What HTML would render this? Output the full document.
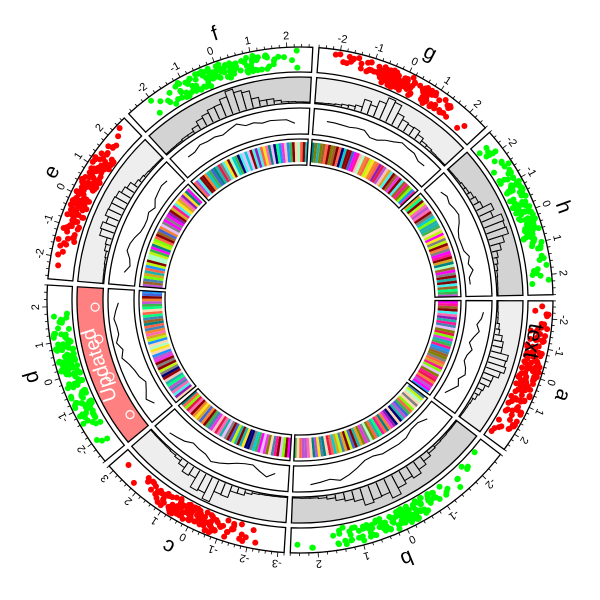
<!DOCTYPE html>
<html><head><meta charset="utf-8"><style>
html,body{margin:0;padding:0;background:#fff;}
svg{display:block;font-family:"Liberation Sans",sans-serif;}
</style></head><body>
<svg id="s" width="600" height="600" viewBox="0 0 600 600" xmlns="http://www.w3.org/2000/svg"></svg>
<script>
(function(){
var cx=300,cy=300,out=[];
var seed=12345;function rnd(){seed=(seed*1103515245+12345)%2147483648;return seed/2147483648;}
function gauss(){var u=rnd()||1e-6,v=rnd();return Math.sqrt(-2*Math.log(u))*Math.cos(2*Math.PI*v);}
function P(r,d){var a=d*Math.PI/180;return [cx+r*Math.sin(a),cy-r*Math.cos(a)];}
function f(n){return n.toFixed(2);}
function arc(r1,r2,a1,a2,fill){var p1=P(r2,a1),p2=P(r2,a2),p3=P(r1,a2),p4=P(r1,a1);var lg=(a2-a1)>180?1:0;
return '<path d="M'+f(p1[0])+','+f(p1[1])+' A'+r2+','+r2+' 0 '+lg+' 1 '+f(p2[0])+','+f(p2[1])+' L'+f(p3[0])+','+f(p3[1])+' A'+r1+','+r1+' 0 '+lg+' 0 '+f(p4[0])+','+f(p4[1])+' Z" fill="'+fill+'" stroke="#000" stroke-width="1.3"/>';}
var S=[
['g',3.6,47.8,2.6,'#ff0000','#eeeeee'],
['h',47.8,89.5,2.6,'#00ff00','#d3d3d3'],
['a',89.5,126.9,2.6,'#ff0000','#eeeeee'],
['b',126.9,182.9,2.6,'#00ff00','#d3d3d3'],
['c',182.9,229.7,3.2,'#ff0000','#eeeeee'],
['d',229.7,274.1,2.6,'#00ff00','#ff8080'],
['e',274.1,316.7,2.7,'#ff0000','#eeeeee'],
['f',316.7,363.6,2.7,'#00ff00','#d3d3d3']];
var T=[[228,253],[197,223],[166,192],[135,161]];
var pal=['#e6194b','#3cb44b','#ffe119','#4363d8','#f58231','#911eb4','#46f0f0','#f032e6','#bcf60c','#fabebe','#008080','#e6beff','#9a6324','#800000','#aaffc3','#808000','#ffd8b1','#000075','#808080','#ff00ff','#00ff7f','#1e90ff','#ff1493','#7cfc00','#ba55d3','#20b2aa','#ff6347','#4682b4','#daa520','#00ced1','#8b0000','#ff69b4'];
S.forEach(function(s){
var a1=s[1]+0.7,a2=s[2]-0.7,w=s[3];
function ang(x){return a1+(x+w)/(2*w)*(a2-a1);}
out.push(arc(T[0][0],T[0][1],a1,a2,'#fff'));
for(var i=0;i<130;i++){var x=gauss()*1.0;if(x<-w+0.1||x>w-0.1)continue;var y=T[0][0]+3.5+rnd()*(T[0][1]-T[0][0]-7);var p=P(y,ang(x));out.push('<circle cx="'+f(p[0])+'" cy="'+f(p[1])+'" r="3" fill="'+s[4]+'"/>');}
out.push(arc(T[1][0],T[1][1],a1,a2,s[5]));
if(s[0]!=='d'){var nb=22;for(var b=0;b<nb;b++){var x0=-w+b*2*w/nb,x1=x0+2*w/nb,xm=(x0+x1)/2;var h=Math.exp(-xm*xm/1.2)*(0.6+rnd()*0.6)*20;var r0=T[1][0]+1,r1=r0+h;var A=P(r0,ang(x0)),B=P(r1,ang(x0)),C=P(r1,ang(x1)),D=P(r0,ang(x1));out.push('<path d="M'+f(A[0])+','+f(A[1])+' L'+f(B[0])+','+f(B[1])+' L'+f(C[0])+','+f(C[1])+' L'+f(D[0])+','+f(D[1])+'" fill="none" stroke="#000" stroke-width="1"/>');}}
out.push(arc(T[2][0],T[2][1],a1,a2,'#fff'));
var lp=[],y=179;for(var k=0;k<=14;k++){y+=(rnd()-0.5)*10;if(y<169)y=171;if(y>189)y=187;var p=P(y,ang(-w*0.8+k*1.6*w/14));lp.push(f(p[0])+','+f(p[1]));}
out.push('<polyline points="'+lp.join(' ')+'" fill="none" stroke="#000" stroke-width="1.1"/>');
var nbar=Math.round((a2-a1)/1.0),st=(a2-a1)/nbar;
for(var k=0;k<nbar;k++){var c=pal[Math.floor(rnd()*pal.length)];var q1=P(T[3][0]+3,a1+k*st+0.1),q2=P(T[3][1]-3,a1+k*st+0.1),q3=P(T[3][1]-3,a1+(k+1)*st+0.1),q4=P(T[3][0]+3,a1+(k+1)*st+0.1);
out.push('<path d="M'+f(q1[0])+','+f(q1[1])+' L'+f(q2[0])+','+f(q2[1])+' L'+f(q3[0])+','+f(q3[1])+' L'+f(q4[0])+','+f(q4[1])+'Z" fill="'+c+'"/>');}
out.push(arc(T[3][0],T[3][1],a1,a2,'none'));
for(var t=Math.ceil(-w*5);t<=Math.floor(w*5);t++){var x=t/5,an=ang(x),maj=(t%5===0),p1=P(T[0][1],an),p2=P(T[0][1]+(maj?5:3),an);
out.push('<line x1="'+f(p1[0])+'" y1="'+f(p1[1])+'" x2="'+f(p2[0])+'" y2="'+f(p2[1])+'" stroke="#000" stroke-width="0.8"/>');
if(maj){var pl=P(T[0][1]+8,an);out.push('<text transform="translate('+f(pl[0])+','+f(pl[1])+') rotate('+f(an)+')" text-anchor="middle" font-size="11">'+(t/5)+'</text>');}}
var pa=P(T[0][1]+20,ang(0.25));out.push('<text transform="translate('+f(pa[0])+','+f(pa[1])+') rotate('+f(ang(0.25))+')" text-anchor="middle" font-size="21">'+s[0]+'</text>');
out.push('<path d="M'+f(P(T[0][1],a1)[0])+','+f(P(T[0][1],a1)[1])+' A'+T[0][1]+','+T[0][1]+' 0 0 1 '+f(P(T[0][1],a2)[0])+','+f(P(T[0][1],a2)[1])+'" fill="none" stroke="#000" stroke-width="0.8"/>');
});
var pu=P(210,252);out.push('<text transform="translate('+f(pu[0])+','+f(pu[1])+') rotate(252)" text-anchor="middle" dominant-baseline="middle" font-size="20" fill="#fff">Updated</text>');
[236,248,259,268].forEach(function(a){var p=P(205,a);out.push('<circle cx="'+f(p[0])+'" cy="'+f(p[1])+'" r="4" fill="none" stroke="#fff" stroke-width="1.2"/>');});
var pt=P(236,100);out.push('<text transform="translate('+f(pt[0])+','+f(pt[1])+') rotate(100)" text-anchor="middle" dominant-baseline="middle" font-size="22">text</text>');
document.getElementById('s').innerHTML=out.join('');
})();
</script>
</body></html>
